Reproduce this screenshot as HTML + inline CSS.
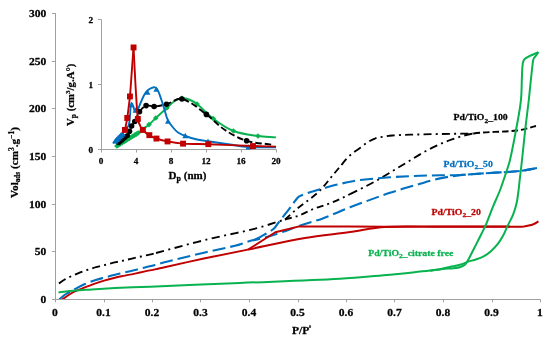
<!DOCTYPE html>
<html><head><meta charset="utf-8"><title>chart</title><style>text{stroke:#000}html,body{margin:0;padding:0;background:#fff}body{width:550px;height:344px;overflow:hidden}</style></head><body>
<svg width="550" height="344" viewBox="0 0 550 344" style="display:block;font-family:'Liberation Serif',serif;font-weight:bold;paint-order:stroke" stroke-width="0.25" stroke-linejoin="round">
<rect width="550" height="344" fill="#fff"/>
<path d="M58.9,283.4 C60.6,282.3 62.2,281.0 63.9,280.0 C65.6,278.9 67.5,278.0 69.3,277.1 C72.2,275.7 75.1,274.5 78.0,273.3 C81.0,272.1 84.0,271.0 87.0,270.0 C90.3,268.9 93.6,267.8 97.0,266.9 C100.2,266.0 103.4,265.4 106.6,264.6 C109.7,263.8 112.9,262.9 116.0,262.2 C119.3,261.4 122.7,260.8 126.0,260.0 C129.3,259.2 132.7,258.4 136.0,257.6 C139.3,256.8 142.7,256.2 146.0,255.4 C149.3,254.6 152.7,253.9 156.0,253.0" fill="none" stroke="#000" stroke-width="1.85" stroke-dasharray="8 4.2 2 4.2" stroke-linejoin="round" />
<path d="M156.0,253.0 C172.4,248.7 188.6,244.0 205.0,240.0 C221.9,235.8 239.1,232.7 256.0,228.4 C265.8,225.9 275.3,222.4 285.0,219.5" fill="none" stroke="#000" stroke-width="1.85" stroke-dasharray="8.2 4.5 2 4.5" stroke-linejoin="round" />
<path d="M285.0,219.5 C289.6,218.1 294.5,217.3 299.0,215.6 C303.9,213.8 308.4,210.9 313.3,209.0 C319.2,206.7 325.3,205.2 331.2,202.8 C337.6,200.2 343.8,197.2 350.0,194.2" fill="none" stroke="#000" stroke-width="1.85" stroke-dasharray="7 4 2 4" stroke-linejoin="round" />
<path d="M350.0,194.2 C358.7,189.9 367.4,185.6 376.0,181.0 C379.4,179.2 382.7,177.0 386.0,175.0 C394.0,170.2 402.0,165.3 410.0,160.5 C415.3,157.3 420.5,154.0 426.0,151.0 C430.6,148.5 435.3,146.3 440.0,144.2 C443.9,142.4 447.9,140.7 452.0,139.4 C459.1,137.1 466.2,134.5 473.6,133.5" fill="none" stroke="#000" stroke-width="1.85" stroke-dasharray="8 4.2 2 4.2" stroke-linejoin="round" />
<path d="M473.6,133.5 C488.0,131.5 502.6,132.2 517.0,130.5 C523.5,129.7 529.7,127.5 536.0,126.0" fill="none" stroke="#000" stroke-width="1.85" stroke-dasharray="6.5 3" stroke-linejoin="round" />
<path d="M285.0,219.5 C289.3,215.7 293.5,211.7 298.0,208.0 C304.7,202.5 312.1,198.0 318.4,192.0 C324.1,186.6 328.7,180.0 333.8,174.0 C336.3,171.0 338.9,168.0 341.4,165.0" fill="none" stroke="#000" stroke-width="1.85" stroke-dasharray="7 4 2 4" stroke-linejoin="round" />
<path d="M341.4,165.0 C343.3,162.7 345.0,160.3 347.0,158.2 C348.8,156.3 350.9,154.5 353.0,152.9 C355.4,151.0 358.1,149.4 360.6,147.6 C362.9,145.9 364.9,144.0 367.3,142.5 C369.9,140.9 372.5,139.3 375.4,138.3 C378.1,137.3 381.0,137.1 383.9,136.6 C386.7,136.1 389.5,135.7 392.3,135.5 C398.2,135.1 404.1,134.9 410.0,134.7 C420.0,134.4 430.0,134.2 440.0,134.0 C451.2,133.8 462.4,133.7 473.6,133.5" fill="none" stroke="#000" stroke-width="1.85" stroke-dasharray="8 4.2 2 4.2" stroke-linejoin="round" />
<path d="M59.3,299.3 C61.5,297.5 63.6,295.6 66.0,294.0 C68.9,292.1 72.0,290.6 75.0,289.0 C78.3,287.3 81.6,285.5 85.0,284.0 C88.3,282.6 91.6,281.3 95.0,280.2 C98.3,279.1 101.7,278.3 105.0,277.4 C108.3,276.5 111.7,275.6 115.0,274.8 C118.3,274.0 121.7,273.2 125.0,272.4 C128.3,271.6 131.7,270.8 135.0,270.0 C138.3,269.2 141.7,268.2 145.0,267.4 C148.3,266.6 151.7,265.9 155.0,265.0 C158.2,264.1 161.4,263.0 164.6,262.2 C178.0,258.8 191.5,255.6 205.0,252.4 C215.0,250.1 225.1,248.2 235.0,245.7 C240.6,244.3 246.0,242.1 251.6,240.6 C254.6,239.8 257.6,239.5 260.6,238.7 C267.1,236.9 273.6,234.9 280.0,232.8 C287.3,230.4 294.5,227.4 301.8,225.0 C308.6,222.7 315.5,221.0 322.2,218.7 C327.0,217.0 331.6,214.9 336.3,213.0 C340.9,211.1 345.4,209.0 350.0,207.2 C353.3,205.9 356.7,204.7 360.0,203.5 C370.0,199.9 379.9,196.1 390.0,192.8 C399.9,189.5 410.0,186.7 420.0,183.8 C426.6,181.9 433.2,179.9 440.0,178.4 C446.6,177.0 453.3,175.9 460.0,175.2 C470.0,174.1 480.0,173.7 490.0,173.0 C500.0,172.3 510.0,172.1 520.0,171.0 C525.7,170.4 531.3,169.0 537.0,168.0" fill="none" stroke="#0070c0" stroke-width="2.1" stroke-dasharray="13 5" stroke-linejoin="round" />
<path d="M255.0,239.5 C256.9,238.6 258.8,237.8 260.6,236.8 C264.9,234.3 269.4,232.1 273.4,229.0 C275.3,227.6 276.3,225.3 277.8,223.5 C281.6,218.6 285.5,213.7 289.3,208.8 C290.9,206.8 292.3,204.6 293.8,202.6 C295.0,201.0 296.3,199.3 297.6,197.8 C298.1,197.2 298.6,196.7 299.2,196.3 C299.8,195.9 300.6,195.7 301.3,195.4 C303.7,194.5 306.1,193.6 308.5,192.8 C312.7,191.4 317.0,190.2 321.3,189.0 C325.9,187.7 330.4,186.3 335.0,185.1 C340.0,183.9 345.0,182.8 350.0,181.8 C353.3,181.1 356.6,180.4 360.0,180.0 C370.0,178.9 380.0,178.0 390.0,177.3 C400.0,176.6 410.0,176.2 420.0,175.8 C426.7,175.5 433.3,175.4 440.0,175.3 C446.7,175.2 453.3,175.3 460.0,175.0 C470.0,174.5 480.0,173.7 490.0,173.0 C500.0,172.3 510.0,172.1 520.0,171.0 C525.7,170.4 531.3,169.0 537.0,168.0" fill="none" stroke="#0070c0" stroke-width="2.1" stroke-dasharray="13 5" stroke-linejoin="round" />
<path d="M62.4,299.4 C63.9,298.3 65.4,297.2 66.9,296.2 C68.5,295.1 70.1,294.0 71.8,293.0 C73.2,292.2 74.6,291.5 76.0,290.9 C77.9,290.1 79.8,289.3 81.7,288.6 C85.0,287.3 88.3,286.0 91.6,284.8 C96.0,283.2 100.5,281.8 105.0,280.4 C108.3,279.4 111.6,278.5 115.0,277.7 C118.3,276.9 121.7,276.3 125.0,275.6 C128.3,274.9 131.7,274.3 135.0,273.6 C138.3,272.9 141.7,272.1 145.0,271.4 C148.3,270.7 151.7,270.1 155.0,269.4 C158.2,268.7 161.4,267.9 164.6,267.2 C178.1,264.2 191.5,261.2 205.0,258.3 C219.2,255.3 233.5,252.5 247.8,249.6 C266.9,245.7 285.8,241.3 305.0,238.0 C319.9,235.4 335.0,234.1 350.0,232.0 C361.7,230.4 373.2,227.7 385.0,227.0 C403.3,225.9 421.7,226.8 440.0,226.8 C463.3,226.8 486.7,226.9 510.0,226.8 C514.6,226.8 519.2,226.8 523.8,226.5 C525.9,226.3 528.0,225.8 530.0,225.3 C531.4,225.0 532.7,224.6 534.0,224.0 C535.6,223.3 537.0,222.3 538.5,221.4" fill="none" stroke="#c00000" stroke-width="1.95" stroke-linejoin="round" />
<path d="M247.8,249.8 L275.3,232.3 L299.2,226.4 L350.0,226.5 L385.0,226.7 L440.0,226.5 L510.0,226.5" fill="none" stroke="#c00000" stroke-width="1.95" stroke-linejoin="round" />
<path d="M58.5,292.4 C64.0,291.8 69.5,291.1 75.0,290.6 C80.5,290.1 86.1,289.8 91.6,289.4 C99.4,288.9 107.2,288.4 115.0,288.0 C126.7,287.5 138.3,287.2 150.0,286.7 C180.0,285.5 210.0,284.2 240.0,283.0 C273.3,281.6 306.7,280.6 340.0,278.8 C356.7,277.9 373.3,276.1 390.0,274.7 C397.6,274.0 405.1,273.3 412.7,272.5 C418.5,271.9 424.2,271.3 430.0,270.6 C433.3,270.2 436.7,269.8 440.0,269.2 C442.9,268.7 445.8,267.8 448.7,267.2 C450.6,266.8 452.6,266.4 454.5,266.0 C456.9,265.4 459.4,265.0 461.8,264.2 C463.6,263.6 465.2,262.7 466.9,262.1 C470.0,261.0 473.3,260.3 476.4,259.2 C478.8,258.4 481.3,257.5 483.6,256.3 C486.2,254.9 488.7,253.2 490.9,251.2 C493.4,249.0 495.7,246.5 497.8,243.9 C499.9,241.2 501.7,238.2 503.3,235.2 C505.0,232.1 506.2,228.9 507.7,225.7 C509.5,221.9 511.7,218.2 513.2,214.3 C514.7,210.6 515.8,206.7 516.7,202.8 C517.6,198.6 518.0,194.3 518.6,190.0 C519.0,186.7 519.3,183.3 519.7,180.0 C520.5,173.3 521.3,166.7 522.0,160.0 C523.2,149.3 524.2,138.7 525.4,128.0 C526.5,118.7 527.7,109.3 528.8,100.0 C529.4,94.5 529.9,89.1 530.5,83.6 C531.1,77.7 531.7,71.9 532.4,66.0 C532.7,63.7 532.7,61.2 533.5,59.0 C533.9,57.7 535.1,56.8 535.9,55.7 C536.7,54.5 537.6,53.4 538.4,52.2" fill="none" stroke="#08b24f" stroke-width="2" stroke-linejoin="round" />
<path d="M538.4,52.2 C534.0,54.2 529.3,55.6 525.3,58.3 C523.9,59.2 523.2,61.1 522.9,62.7 C522.1,66.7 522.2,70.9 522.0,75.0 C521.6,83.1 521.8,91.2 521.0,99.3 C520.3,106.9 518.9,114.5 517.5,122.0 C515.2,134.7 512.9,147.4 510.0,160.0 C508.8,165.1 506.9,170.0 505.3,175.0 C503.6,180.0 502.0,185.1 500.1,190.0 C497.9,195.6 495.3,201.0 493.0,206.6 C490.5,212.7 488.4,218.9 485.8,225.0 C484.5,228.0 482.9,230.8 481.5,233.7 C479.8,237.1 478.1,240.5 476.4,243.9 C474.4,247.8 472.5,251.7 470.5,255.5 C469.3,257.7 468.2,259.9 466.9,262.1 C466.3,263.0 465.9,264.0 465.0,264.7 C463.7,265.7 462.1,266.4 460.5,267.0 C458.8,267.6 457.1,267.9 455.3,268.1 C452.9,268.4 450.4,268.4 448.0,268.6 C445.3,268.8 442.7,269.1 440.0,269.4 C436.7,269.8 433.3,270.3 430.0,270.7" fill="none" stroke="#08b24f" stroke-width="2" stroke-linejoin="round" />
<path d="M55.5,13 V299.5 M55,299.5 H540.5" stroke="#a0a0a0" stroke-width="1" fill="none"/>
<path d="M52,299.5 H55.5 M52,251.5 H55.5 M52,204.5 H55.5 M52,156.5 H55.5 M52,108.5 H55.5 M52,61.5 H55.5 M52,13.5 H55.5 M55.5,299.5 V302.3 M104.5,299.5 V302.3 M152.5,299.5 V302.3 M200.5,299.5 V302.3 M249.5,299.5 V302.3 M298.5,299.5 V302.3 M346.5,299.5 V302.3 M394.5,299.5 V302.3 M443.5,299.5 V302.3 M492.5,299.5 V302.3 M540.5,299.5 V302.3 " stroke="#a0a0a0" stroke-width="1" fill="none"/>
<text transform="translate(46.2,302.9) scale(1.07,1)" font-size="10.8" text-anchor="end">0</text>
<text transform="translate(46.2,255.2) scale(1.07,1)" font-size="10.8" text-anchor="end">50</text>
<text transform="translate(46.2,207.6) scale(1.07,1)" font-size="10.8" text-anchor="end">100</text>
<text transform="translate(46.2,159.9) scale(1.07,1)" font-size="10.8" text-anchor="end">150</text>
<text transform="translate(46.2,112.2) scale(1.07,1)" font-size="10.8" text-anchor="end">200</text>
<text transform="translate(46.2,64.6) scale(1.07,1)" font-size="10.8" text-anchor="end">250</text>
<text transform="translate(46.2,16.9) scale(1.07,1)" font-size="10.8" text-anchor="end">300</text>
<text transform="translate(55.0,316.2) scale(1.07,1)" font-size="10.8" text-anchor="middle">0</text>
<text transform="translate(103.5,316.2) scale(1.07,1)" font-size="10.8" text-anchor="middle">0.1</text>
<text transform="translate(152.0,316.2) scale(1.07,1)" font-size="10.8" text-anchor="middle">0.2</text>
<text transform="translate(200.5,316.2) scale(1.07,1)" font-size="10.8" text-anchor="middle">0.3</text>
<text transform="translate(249.0,316.2) scale(1.07,1)" font-size="10.8" text-anchor="middle">0.4</text>
<text transform="translate(297.5,316.2) scale(1.07,1)" font-size="10.8" text-anchor="middle">0.5</text>
<text transform="translate(346.0,316.2) scale(1.07,1)" font-size="10.8" text-anchor="middle">0.6</text>
<text transform="translate(394.5,316.2) scale(1.07,1)" font-size="10.8" text-anchor="middle">0.7</text>
<text transform="translate(443.0,316.2) scale(1.07,1)" font-size="10.8" text-anchor="middle">0.8</text>
<text transform="translate(491.5,316.2) scale(1.07,1)" font-size="10.8" text-anchor="middle">0.9</text>
<text transform="translate(540.0,316.2) scale(1.07,1)" font-size="10.8" text-anchor="middle">1</text>
<text transform="translate(292,333.6) scale(1.07,1)" font-size="10.8">P/P<tspan font-size="6" dy="-4" dx="-0.6">°</tspan></text>
<text transform="translate(18,198) rotate(-90)" font-size="11.2">Vol<tspan font-size="7.2" dy="2">ads</tspan><tspan dy="-2"> (cm</tspan><tspan font-size="7.5" dy="-4">3</tspan><tspan dy="4">.g</tspan><tspan font-size="7.5" dy="-4">−1</tspan><tspan dy="4">)</tspan></text>
<text transform="translate(453.6,120.3) scale(1.07,1)" font-size="9.15" fill="#000" style="stroke:#000">Pd/TiO<tspan font-size="7" dy="2.3">2</tspan><tspan dy="-1.3">_</tspan><tspan dy="-1">100</tspan></text>
<text transform="translate(443.6,166.6) scale(1.07,1)" font-size="9.15" fill="#0070c0" style="stroke:#0070c0">Pd/TiO<tspan font-size="7" dy="2.3">2</tspan><tspan dy="-1.3">_</tspan><tspan dy="-1">50</tspan></text>
<text transform="translate(431.6,214.7) scale(1.07,1)" font-size="9.15" fill="#c00000" style="stroke:#c00000">Pd/TiO<tspan font-size="7" dy="2.3">2</tspan><tspan dy="-1.3">_</tspan><tspan dy="-1">20</tspan></text>
<text transform="translate(368.2,256) scale(1.07,1)" font-size="9.15" fill="#08b24f" style="stroke:#08b24f">Pd/TiO<tspan font-size="7" dy="2.3">2</tspan><tspan dy="-1.3">_</tspan><tspan dy="-1">citrate free</tspan></text>
<path d="M101.5,19.5 V150 M101,149.5 H276.5" stroke="#a0a0a0" stroke-width="1" fill="none"/>
<path d="M98,149.5 H101.5 M98,84.5 H101.5 M98,19.5 H101.5 M101.5,149.5 V152.5 M136.5,149.5 V152.5 M171.5,149.5 V152.5 M206.5,149.5 V152.5 M241.5,149.5 V152.5 M276.5,149.5 V152.5 " stroke="#a0a0a0" stroke-width="1" fill="none"/>
<text transform="translate(93,152.6) scale(1.07,1)" font-size="8.6" text-anchor="end">0</text>
<text transform="translate(93,87.6) scale(1.07,1)" font-size="8.6" text-anchor="end">1</text>
<text transform="translate(93,22.6) scale(1.07,1)" font-size="8.6" text-anchor="end">2</text>
<text transform="translate(101.0,164.2) scale(1.07,1)" font-size="8.6" text-anchor="middle">0</text>
<text transform="translate(136.0,164.2) scale(1.07,1)" font-size="8.6" text-anchor="middle">4</text>
<text transform="translate(171.0,164.2) scale(1.07,1)" font-size="8.6" text-anchor="middle">8</text>
<text transform="translate(206.0,164.2) scale(1.07,1)" font-size="8.6" text-anchor="middle">12</text>
<text transform="translate(241.0,164.2) scale(1.07,1)" font-size="8.6" text-anchor="middle">16</text>
<text transform="translate(276.0,164.2) scale(1.07,1)" font-size="8.6" text-anchor="middle">20</text>
<text transform="translate(168.6,178.7) scale(1.07,1)" font-size="10.3">D<tspan font-size="7.5" dy="2">p</tspan><tspan dy="-2"> (nm)</tspan></text>
<text transform="translate(74,126) rotate(-90)" font-size="10.8">V<tspan font-size="7.5" dy="2">p</tspan><tspan dy="-2"> (cm</tspan><tspan font-size="7" dy="-4">3</tspan><tspan dy="4">/g.A°)</tspan></text>
<path d="M116.9,146.0 C124.0,141.7 131.2,137.5 138.1,133.0 C139.7,132.0 141.0,130.5 142.5,129.3 C144.6,127.7 147.0,126.3 149.0,124.6 C151.4,122.6 153.5,120.1 155.8,118.0 C159.5,114.6 163.2,111.3 166.9,108.0 C169.3,105.8 171.3,103.3 174.0,101.5 C176.4,99.9 179.0,98.4 181.9,98.0 C184.3,97.7 186.8,98.6 189.0,99.5 C191.8,100.6 194.6,102.1 197.0,104.0 C202.7,108.5 207.4,114.2 213.2,118.5 C219.6,123.2 226.1,128.1 233.5,131.0 C241.3,134.0 249.8,134.8 258.0,136.0 C264.0,136.9 270.0,136.9 276.0,137.4" fill="none" stroke="#08b24f" stroke-width="1.9" stroke-linejoin="round" />
<path d="M114.1,146.0 l2.8,-2.8 l2.8,2.8 l-2.8,2.8 z" fill="#08b24f"/>
<path d="M115.9,144.9 l2.8,-2.8 l2.8,2.8 l-2.8,2.8 z" fill="#08b24f"/>
<path d="M117.6,143.8 l2.8,-2.8 l2.8,2.8 l-2.8,2.8 z" fill="#08b24f"/>
<path d="M119.4,142.7 l2.8,-2.8 l2.8,2.8 l-2.8,2.8 z" fill="#08b24f"/>
<path d="M121.2,141.7 l2.8,-2.8 l2.8,2.8 l-2.8,2.8 z" fill="#08b24f"/>
<path d="M123.0,140.6 l2.8,-2.8 l2.8,2.8 l-2.8,2.8 z" fill="#08b24f"/>
<path d="M124.7,139.5 l2.8,-2.8 l2.8,2.8 l-2.8,2.8 z" fill="#08b24f"/>
<path d="M126.5,138.4 l2.8,-2.8 l2.8,2.8 l-2.8,2.8 z" fill="#08b24f"/>
<path d="M128.3,137.3 l2.8,-2.8 l2.8,2.8 l-2.8,2.8 z" fill="#08b24f"/>
<path d="M130.0,136.2 l2.8,-2.8 l2.8,2.8 l-2.8,2.8 z" fill="#08b24f"/>
<path d="M131.8,135.1 l2.8,-2.8 l2.8,2.8 l-2.8,2.8 z" fill="#08b24f"/>
<path d="M133.6,134.1 l2.8,-2.8 l2.8,2.8 l-2.8,2.8 z" fill="#08b24f"/>
<path d="M135.3,133.0 l2.8,-2.8 l2.8,2.8 l-2.8,2.8 z" fill="#08b24f"/>
<path d="M139.7,129.3 l2.8,-2.8 l2.8,2.8 l-2.8,2.8 z" fill="#08b24f"/>
<path d="M146.2,124.6 l2.8,-2.8 l2.8,2.8 l-2.8,2.8 z" fill="#08b24f"/>
<path d="M153.0,118.0 l2.8,-2.8 l2.8,2.8 l-2.8,2.8 z" fill="#08b24f"/>
<path d="M164.1,108.0 l2.8,-2.8 l2.8,2.8 l-2.8,2.8 z" fill="#08b24f"/>
<path d="M179.1,98.3 l2.8,-2.8 l2.8,2.8 l-2.8,2.8 z" fill="#08b24f"/>
<path d="M194.2,104.0 l2.8,-2.8 l2.8,2.8 l-2.8,2.8 z" fill="#08b24f"/>
<path d="M210.4,118.5 l2.8,-2.8 l2.8,2.8 l-2.8,2.8 z" fill="#08b24f"/>
<path d="M230.7,131.0 l2.8,-2.8 l2.8,2.8 l-2.8,2.8 z" fill="#08b24f"/>
<path d="M255.2,136.0 l2.8,-2.8 l2.8,2.8 l-2.8,2.8 z" fill="#08b24f"/>
<path d="M113.0,143.0 C116.1,140.1 119.3,137.3 122.2,134.2 C123.3,133.0 124.0,131.4 125.0,130.0 C126.2,128.4 128.1,127.2 128.7,125.3 C129.8,122.0 129.6,118.4 130.0,115.0 C130.5,111.2 130.1,107.1 131.5,103.5 C131.9,102.4 132.8,105.4 133.3,106.5 C134.0,108.1 133.8,110.4 135.2,111.5 C135.9,112.1 137.0,110.7 137.5,110.0 C138.4,108.7 138.8,107.1 139.5,105.6 C141.0,102.2 142.2,98.8 143.9,95.5 C144.7,93.9 145.6,92.3 146.8,91.1 C148.0,89.9 149.6,88.9 151.2,88.2 C152.5,87.6 154.2,86.9 155.5,87.5 C156.9,88.1 157.6,89.7 158.2,91.1 C159.5,93.9 160.4,96.9 161.4,99.8 C162.7,103.7 163.8,107.6 165.0,111.5 C165.9,114.4 166.5,117.5 167.9,120.2 C169.2,122.9 171.1,125.2 173.0,127.5 C174.5,129.3 176.1,131.2 178.0,132.5 C180.2,134.0 182.8,135.1 185.3,136.0 C189.1,137.4 193.0,138.6 197.0,139.5 C201.2,140.4 205.5,140.9 209.8,141.5 C216.5,142.5 223.3,143.5 230.0,144.5 C236.1,145.4 242.2,146.6 248.4,147.0 C257.6,147.6 266.8,147.3 276.0,147.4" fill="none" stroke="#0070c0" stroke-width="1.9" stroke-linejoin="round" />
<path d="M115.3,137.9 l2.9,5.4 h-5.8 z" fill="#0070c0"/>
<path d="M116.7,136.5 l2.9,5.4 h-5.8 z" fill="#0070c0"/>
<path d="M118.1,135.1 l2.9,5.4 h-5.8 z" fill="#0070c0"/>
<path d="M119.5,133.7 l2.9,5.4 h-5.8 z" fill="#0070c0"/>
<path d="M120.9,132.3 l2.9,5.4 h-5.8 z" fill="#0070c0"/>
<path d="M122.3,130.9 l2.9,5.4 h-5.8 z" fill="#0070c0"/>
<path d="M131.5,101.8 l2.9,5.4 h-5.8 z" fill="#0070c0"/>
<path d="M135.5,107.3 l2.9,5.4 h-5.8 z" fill="#0070c0"/>
<path d="M147.5,89.3 l2.9,5.4 h-5.8 z" fill="#0070c0"/>
<path d="M156.3,86.4 l2.9,5.4 h-5.8 z" fill="#0070c0"/>
<path d="M167.9,118.4 l2.9,5.4 h-5.8 z" fill="#0070c0"/>
<path d="M185.3,132.8 l2.9,5.4 h-5.8 z" fill="#0070c0"/>
<path d="M208.0,138.4 l2.9,5.4 h-5.8 z" fill="#0070c0"/>
<path d="M248.4,144.2 l2.9,5.4 h-5.8 z" fill="#0070c0"/>
<path d="M118.6,142.7 C121.6,140.3 124.8,138.2 127.5,135.4 C128.6,134.3 128.9,132.7 129.5,131.3 C130.3,129.6 130.7,127.7 131.6,126.0 C132.5,124.4 133.9,123.1 134.8,121.5 C136.6,118.3 137.4,114.7 139.5,111.7 C141.2,109.3 143.3,106.6 146.1,105.6 C148.6,104.7 151.4,106.7 154.1,106.5 C158.3,106.2 162.4,105.3 166.5,104.2 C171.7,102.8 176.7,97.7 181.9,99.0 C191.2,101.4 198.6,108.8 206.4,114.4 C213.0,119.1 218.2,125.6 225.0,130.0 C231.7,134.4 238.9,138.4 246.6,140.8 C254.8,143.4 263.5,143.4 272.0,144.7" fill="none" stroke="#000" stroke-width="1.9" stroke-dasharray="6.5 3" stroke-linejoin="round" />
<circle cx="118.6" cy="142.7" r="2.5" fill="#000"/>
<circle cx="120.1" cy="141.5" r="2.5" fill="#000"/>
<circle cx="121.6" cy="140.3" r="2.5" fill="#000"/>
<circle cx="123.0" cy="139.1" r="2.5" fill="#000"/>
<circle cx="124.5" cy="137.8" r="2.5" fill="#000"/>
<circle cx="126.0" cy="136.6" r="2.5" fill="#000"/>
<circle cx="127.5" cy="135.4" r="2.5" fill="#000"/>
<circle cx="129.5" cy="131.3" r="2.8" fill="#000"/>
<circle cx="131.6" cy="126.0" r="2.8" fill="#000"/>
<circle cx="134.8" cy="121.5" r="2.8" fill="#000"/>
<circle cx="139.5" cy="111.7" r="2.8" fill="#000"/>
<circle cx="146.1" cy="105.6" r="2.8" fill="#000"/>
<circle cx="154.1" cy="106.5" r="2.8" fill="#000"/>
<circle cx="166.5" cy="104.2" r="2.8" fill="#000"/>
<circle cx="181.9" cy="99.0" r="2.8" fill="#000"/>
<circle cx="206.4" cy="114.4" r="2.8" fill="#000"/>
<circle cx="246.6" cy="140.8" r="2.8" fill="#000"/>
<path d="M115.7,138.1 l2.9,5.4 h-5.8 z" fill="#0070c0"/>
<path d="M117.1,136.7 l2.9,5.4 h-5.8 z" fill="#0070c0"/>
<path d="M118.5,135.3 l2.9,5.4 h-5.8 z" fill="#0070c0"/>
<path d="M119.9,133.9 l2.9,5.4 h-5.8 z" fill="#0070c0"/>
<path d="M121.3,132.5 l2.9,5.4 h-5.8 z" fill="#0070c0"/>
<path d="M122.7,131.1 l2.9,5.4 h-5.8 z" fill="#0070c0"/>
<path d="M125.0,130.0 L127.3,118.0 L130.0,96.4 L133.5,47.5" fill="none" stroke="#c00000" stroke-width="1.9" stroke-linejoin="round" />
<path d="M133.5,47.5 C134.9,71.3 135.7,95.2 137.8,119.0 C138.0,121.5 139.3,123.7 140.3,126.0 C141.0,127.4 141.7,128.9 142.8,130.0 C144.7,132.0 146.9,133.7 149.3,135.2 C151.5,136.6 153.9,137.7 156.4,138.5 C160.0,139.7 163.7,140.7 167.5,141.4 C172.6,142.4 177.8,143.2 183.0,143.6 C191.4,144.2 199.9,143.9 208.3,144.2 C223.2,144.7 238.0,145.5 252.9,146.0 C260.6,146.3 268.3,146.4 276.0,146.6" fill="none" stroke="#c00000" stroke-width="1.9" stroke-linejoin="round" />
<rect x="122.0" y="127.0" width="5.9" height="5.9" fill="#c00000"/>
<rect x="124.3" y="115.0" width="5.9" height="5.9" fill="#c00000"/>
<rect x="127.0" y="93.5" width="5.9" height="5.9" fill="#c00000"/>
<rect x="130.6" y="44.5" width="5.9" height="5.9" fill="#c00000"/>
<rect x="134.9" y="116.0" width="5.9" height="5.9" fill="#c00000"/>
<rect x="139.9" y="127.0" width="5.9" height="5.9" fill="#c00000"/>
<rect x="146.4" y="132.2" width="5.9" height="5.9" fill="#c00000"/>
<rect x="153.5" y="135.6" width="5.9" height="5.9" fill="#c00000"/>
<rect x="164.6" y="138.5" width="5.9" height="5.9" fill="#c00000"/>
<rect x="180.1" y="140.7" width="5.9" height="5.9" fill="#c00000"/>
<rect x="205.4" y="141.2" width="5.9" height="5.9" fill="#c00000"/>
<rect x="250.0" y="143.1" width="5.9" height="5.9" fill="#c00000"/>
</svg>
</body></html>
